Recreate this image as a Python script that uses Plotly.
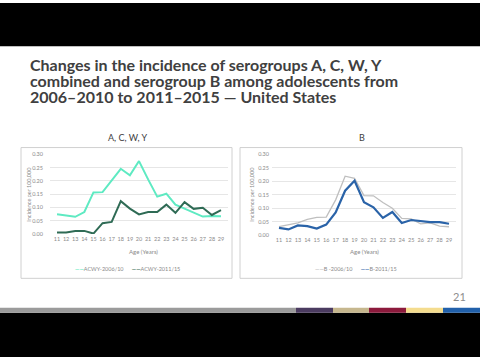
import plotly.graph_objects as go

ages = list(range(11, 30))
acwy_0610 = [0.075, 0.070, 0.065, 0.083, 0.157, 0.158, 0.201, 0.246, 0.221, 0.275,
             0.206, 0.141, 0.152, 0.111, 0.096, 0.080, 0.066, 0.068, 0.067]
acwy_1115 = [0.006, 0.006, 0.012, 0.012, 0.002, 0.041, 0.046, 0.124, 0.096, 0.074,
             0.083, 0.083, 0.111, 0.080, 0.120, 0.095, 0.099, 0.072, 0.090]
b_0610 = [0.031, 0.037, 0.045, 0.058, 0.066, 0.067, 0.131, 0.219, 0.211, 0.147,
          0.146, 0.121, 0.100, 0.062, 0.060, 0.042, 0.045, 0.033, 0.031]
b_1115 = [0.027, 0.021, 0.036, 0.033, 0.024, 0.039, 0.084, 0.165, 0.202, 0.122,
          0.103, 0.064, 0.086, 0.045, 0.056, 0.051, 0.048, 0.048, 0.042]
y_ticks = [0.00, 0.05, 0.10, 0.15, 0.20, 0.25, 0.30]

title_lines = ["Changes in the incidence of serogroups A, C, W, Y",
               "combined and serogroup B among adolescents from",
               "2006\u20132010 to 2011\u20132015 \u2014 United States"]
panel_titles = ["A, C, W, Y", "B"]
names_left = ["ACWY-2006/10", "ACWY-2011/15"]
names_right = ["B -2006/10", "B-2011/15"]
col_left = ["#5EEAC2", "#2F6B55"]
col_right = ["#BFBFBF", "#2A63A8"]
w_left = [2.0, 2.0]
w_right = [1.3, 2.2]

W, H = 480, 360
def px(x): return x / W
def py(y): return 1 - y / H

fig = go.Figure()
for ys, nm, c, w in zip([acwy_0610, acwy_1115], names_left, col_left, w_left):
    fig.add_trace(go.Scatter(x=ages, y=ys, name=nm, mode="lines",
                             line=dict(color=c, width=w), xaxis="x", yaxis="y",
                             showlegend=False))
for ys, nm, c, w in zip([b_0610, b_1115], names_right, col_right, w_right):
    fig.add_trace(go.Scatter(x=ages, y=ys, name=nm, mode="lines",
                             line=dict(color=c, width=w), xaxis="x2", yaxis="y2",
                             showlegend=False))

tickfont = dict(family="Lato", size=5.5, color="#8a8a8a")
def xax(dom, rng, anchor):
    return dict(domain=[px(dom[0]), px(dom[1])], range=rng, anchor=anchor,
                tickmode="array", tickvals=ages, ticktext=[str(a) for a in ages],
                tickfont=tickfont, showgrid=False, zeroline=False, showline=False,
                ticks="", ticklabelstandoff=0)
def yax(dom, anchor, standoff):
    return dict(domain=[py(dom[1]), py(dom[0])], range=[0, 0.30], anchor=anchor,
                tickmode="array", tickvals=y_ticks, tickformat=".2f",
                tickfont=tickfont, showgrid=True, gridcolor="#E6E6E6", gridwidth=0.8,
                zeroline=False, showline=False, ticks="", ticklabelstandoff=standoff)

fig.update_layout(
    width=W, height=H, margin=dict(l=0, r=0, t=0, b=0),
    paper_bgcolor="white", plot_bgcolor="white",
    xaxis=xax((50, 228), [10.23, 29.77], "y"),
    yaxis=yax((154, 235), "x", 6),
    xaxis2=xax((272, 456), [10.26, 29.74], "y2"),
    yaxis2=yax((154, 236), "x2", 2),
)

shapes = [
    dict(type="rect", xref="paper", yref="paper", x0=0, x1=1, y0=py(44), y1=1,
         fillcolor="black", line_width=0, layer="above"),
    dict(type="rect", xref="paper", yref="paper", x0=0, x1=1, y0=0, y1=py(315),
         fillcolor="black", line_width=0, layer="above"),
    dict(type="rect", xref="paper", yref="paper", x0=px(21), x1=px(232), y0=py(280), y1=py(147),
         fillcolor="rgba(0,0,0,0)", line=dict(color="#D0D0D0", width=1), layer="below"),
    dict(type="rect", xref="paper", yref="paper", x0=px(240), x1=px(462), y0=py(280), y1=py(147),
         fillcolor="rgba(0,0,0,0)", line=dict(color="#D0D0D0", width=1), layer="below"),
]
stripe = [(0, 296, "#9B9B9B"), (296, 333, "#4B3B60"), (333, 369, "#C6B78E"),
          (369, 406, "#8C1A3C"), (406, 443, "#F4DC8E"), (443, 480, "#2160AA")]
for x0, x1, c in stripe:
    shapes.append(dict(type="rect", xref="paper", yref="paper", x0=px(x0), x1=px(x1),
                       y0=py(315), y1=py(310), fillcolor=c, line_width=0, layer="above"))
fig.update_layout(shapes=shapes)

def note(text, x, y, size, color, **kw):
    d = dict(text=text, x=px(x), y=py(y), xref="paper", yref="paper", showarrow=False,
             xanchor="center", yanchor="middle",
             font=dict(family="Lato", size=size, color=color))
    d.update(kw)
    return d

ann = []
for t, yy in zip(title_lines, [63, 79, 95]):
    ann.append(note("<b>%s</b>" % t, 28, yy, 16, "#404040", xanchor="left"))
ann.append(note(panel_titles[0], 127, 137, 9, "#404040"))
ann.append(note(panel_titles[1], 362, 137, 9, "#404040"))
for xc in [29, 252]:
    ann.append(note("Incidence per 100,000", xc, 195, 5.5, "#8a8a8a", textangle=-90))
for xc in [143, 364]:
    ann.append(note("Age (Years)", xc, 253, 6, "#8a8a8a"))

def legend_text(names, cols):
    parts = []
    for n, c in zip(names, cols):
        parts.append("<span style='color:%s'><b>\u2014\u2014</b></span>%s" % (c, n))
    return "\u2003\u2003".join(parts)
ann.append(note(legend_text(names_left, col_left), 127, 270, 5.5, "#8a8a8a"))
ann.append(note(legend_text(names_right, col_right), 356, 270, 5.5, "#8a8a8a"))
ann.append(note("21", 459, 298, 11, "#8C8C8C"))
fig.update_layout(annotations=ann)

fig.write_html("out.html", post_script="document.body.style.margin='0';",
               config={"displayModeBar": False})
